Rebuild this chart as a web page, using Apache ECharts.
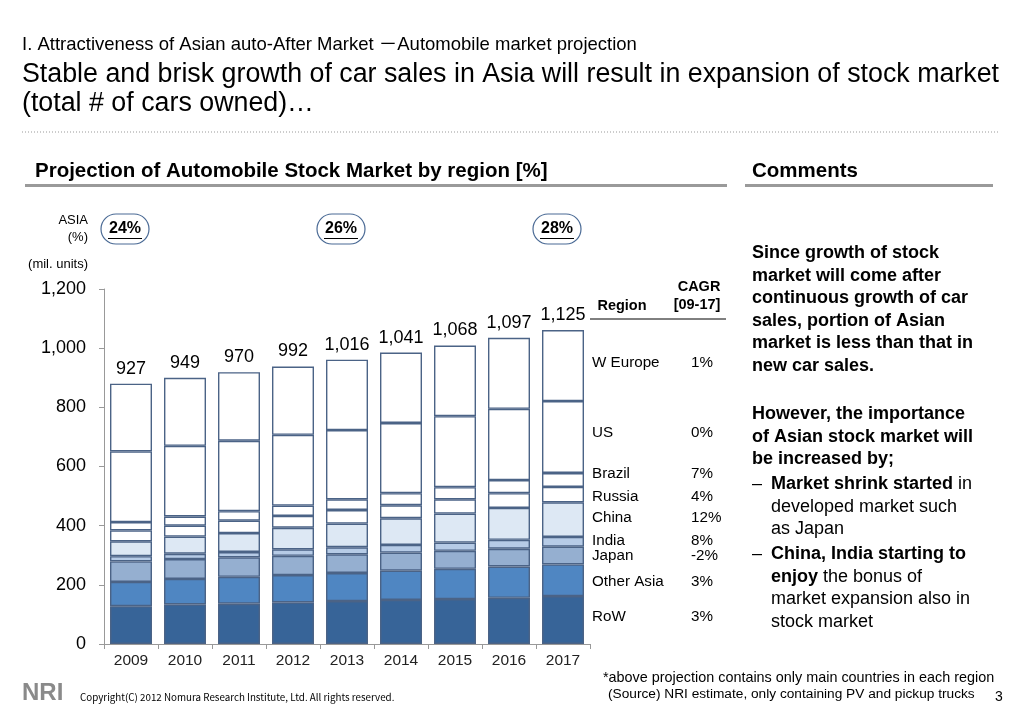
<!DOCTYPE html>
<html>
<head>
<meta charset="utf-8">
<script src="https://cdn.jsdelivr.net/npm/echarts@6/dist/echarts.min.js"></script>
<style>
  html, body { margin: 0; padding: 0; background: #fff; }
  #main { width: 1023px; height: 708px; }
</style>
</head>
<body>
<div id="main"></div>
<script>
// categories
var years = ['2009', '2010', '2011', '2012', '2013', '2014', '2015', '2016', '2017'];
// stock by region, mil. units (bottom to top)
var rowStock = [128, 134, 136, 141, 145, 149, 152, 156, 162];
var otherAsia = [82, 86, 91, 92, 95, 99, 102, 106, 107];
var japan = [69, 67, 66, 65, 63, 61, 61, 60, 60];
var india = [18, 18, 18, 22, 24, 26, 28, 30, 33];
var china = [50, 58, 64, 73, 80, 90, 98, 108, 117];
var russia = [37, 37, 42, 40, 46, 44, 48, 50, 52];
var brazil = [28, 31, 32, 35, 36, 41, 41, 44, 47];
var us = [239, 239, 238, 239, 234, 237, 240, 241, 243];
var wEurope = [229, 230, 232, 231, 238, 238, 239, 240, 240];
// printed totals above the bars
var totals = [927, 949, 970, 992, 1016, 1041, 1068, 1097, 1125];
// asia share bubbles (2009, 2013, 2017)
var asiaShare = ['24%', '26%', '28%'];
// region table
var regions = ['W Europe', 'US', 'Brazil', 'Russia', 'China', 'India', 'Japan', 'Other Asia', 'RoW'];
var cagr = ['1%', '0%', '7%', '4%', '12%', '8%', '-2%', '3%', '3%'];
var tableY = [363, 433, 474, 497, 518, 541, 556, 582, 617];

var FONT = '"Liberation Sans", Arial, "Noto Sans CJK JP", sans-serif';
var BORDER = '#4b6386';

var chart = echarts.init(document.getElementById('main'));

function bar(name, data, color) {
    return {
        name: name,
        type: 'bar',
        stack: 'all',
        barWidth: 42,
        data: data,
        itemStyle: { color: color, borderColor: BORDER, borderWidth: 1.4 }
    };
}

var series = [
    bar('RoW', rowStock, '#376498'),
    bar('Other Asia', otherAsia, '#4f86c2'),
    bar('Japan', japan, '#95afd0'),
    bar('India', india, '#b6cbe6'),
    bar('China', china, '#dde8f4'),
    bar('Russia', russia, '#ffffff'),
    bar('Brazil', brazil, '#ffffff'),
    bar('US', us, '#ffffff'),
    bar('W Europe', wEurope, '#ffffff')
];
// totals on top
series[8].label = {
    show: true,
    position: 'top',
    distance: 6,
    color: '#000',
    fontFamily: FONT,
    fontSize: 18,
    formatter: function (p) {
        return totals[p.dataIndex].toLocaleString('en-US');
    }
};

var graphic = [];
function txt(x, y, text, size, opt) {
    opt = opt || {};
    graphic.push({
        type: 'text',
        x: x, y: y,
        style: {
            text: text,
            fill: opt.color || '#000',
            font: (opt.bold ? 'bold ' : '') + size + 'px ' + (opt.family || FONT),
            textAlign: opt.align || 'left',
            textVerticalAlign: opt.valign || 'middle'
        }
    });
}

// header
txt(22, 45, 'I. Attractiveness of Asian auto-After Market －Automobile market projection', 18.5);
txt(22, 75, 'Stable and brisk growth of car sales in Asia will result in expansion of stock market', 26.8);
txt(22, 104, '(total # of cars owned)…', 26.8);
graphic.push({
    type: 'line',
    shape: { x1: 22, y1: 132, x2: 1000, y2: 132 },
    style: { stroke: '#999', lineWidth: 1, lineDash: [1, 2] }
});

// section headings
txt(35, 171, 'Projection of Automobile Stock Market by region [%]', 20.5, { bold: true });
txt(752, 171, 'Comments', 20.5, { bold: true });
graphic.push({ type: 'rect', shape: { x: 25, y: 184, width: 702, height: 3 }, style: { fill: '#9a9a9a' } });
graphic.push({ type: 'rect', shape: { x: 745, y: 184, width: 248, height: 3 }, style: { fill: '#9a9a9a' } });

// asia share bubbles
txt(88, 220, 'ASIA', 13, { align: 'right' });
txt(88, 237, '(%)', 13, { align: 'right' });
txt(88, 264, '(mil. units)', 13, { align: 'right' });
var bubbleX = [125, 341, 557];
asiaShare.forEach(function (s, i) {
    var cx = bubbleX[i];
    graphic.push({
        type: 'rect',
        shape: { x: cx - 24, y: 214, width: 48, height: 30, r: 15 },
        style: { fill: '#fff', stroke: '#4a6a95', lineWidth: 1.2 }
    });
    txt(cx, 229, s, 16, { bold: true, align: 'center' });
    graphic.push({
        type: 'line',
        shape: { x1: cx - 17, y1: 238.5, x2: cx + 17, y2: 238.5 },
        style: { stroke: '#000', lineWidth: 1 }
    });
});

// region table
txt(622, 306, 'Region', 14.5, { bold: true, align: 'center' });
txt(699, 287, 'CAGR', 14.5, { bold: true, align: 'center' });
txt(697, 305, '[09-17]', 14.5, { bold: true, align: 'center' });
graphic.push({
    type: 'line',
    shape: { x1: 590, y1: 319, x2: 726, y2: 319 },
    style: { stroke: '#000', lineWidth: 1 }
});
regions.forEach(function (r, i) {
    txt(592, tableY[i], r, 15.2);
    txt(691, tableY[i], cagr[i], 15.2);
});

// comments
var rich = { b: { fontWeight: 'bold', fontSize: 18, fontFamily: FONT, lineHeight: 22.5 } };
function para(y, text, lh, x) {
    graphic.push({
        type: 'text',
        x: x || 752, y: y,
        style: {
            text: text,
            fill: '#000',
            font: '18px ' + FONT,
            lineHeight: lh,
            textVerticalAlign: 'top',
            rich: rich
        }
    });
}
para(242, '{b|Since growth of stock}\n{b|market will come after}\n{b|continuous growth of car}\n{b|sales, portion of Asian}\n{b|market is less than that in}\n{b|new car sales.}', 22);
para(403, '{b|However, the importance}\n{b|of Asian stock market will}\n{b|be increased by;}', 22.5);
txt(752, 484, '–', 18);
txt(752, 554, '–', 18);
para(473, '{b|Market shrink started} in\ndeveloped market such\nas Japan', 22.5, 771);
para(543, '{b|China, India starting to}\n{b|enjoy} the bonus of\nmarket expansion also in\nstock market', 22.5, 771);

// footer
txt(22, 693, 'NRI', 24, { bold: true, color: '#8a8a8a', family: '"Liberation Sans Narrow", "Liberation Sans", sans-serif' });
txt(80, 697, 'Copyright(C) 2012 Nomura Research Institute, Ltd. All rights reserved.', 9.8, { family: '"Noto Sans CJK JP", sans-serif' });
txt(603, 678, '*above projection contains only main countries in each region', 14.4);
txt(608, 694, '(Source) NRI estimate, only containing PV and pickup trucks', 13.7);
txt(995, 697, '3', 14);

var option = {
    animation: false,
    backgroundColor: '#fff',
    grid: { left: 104, right: 433, top: 289, bottom: 64 },
    xAxis: {
        type: 'category',
        data: years,
        axisLine: { lineStyle: { color: '#999' } },
        axisTick: { show: true, length: 5, lineStyle: { color: '#999' } },
        axisLabel: { color: '#222', fontFamily: FONT, fontSize: 15.5, margin: 9 }
    },
    yAxis: {
        type: 'value',
        min: 0,
        max: 1200,
        interval: 200,
        axisLine: { show: true, lineStyle: { color: '#999' } },
        axisTick: { show: true, length: 5, lineStyle: { color: '#999' } },
        splitLine: { show: false },
        axisLabel: {
            color: '#000', fontFamily: FONT, fontSize: 18, margin: 18,
            formatter: function (v) { return v.toLocaleString('en-US'); }
        }
    },
    series: series,
    graphic: graphic
};

chart.setOption(option);
</script>
</body>
</html>
